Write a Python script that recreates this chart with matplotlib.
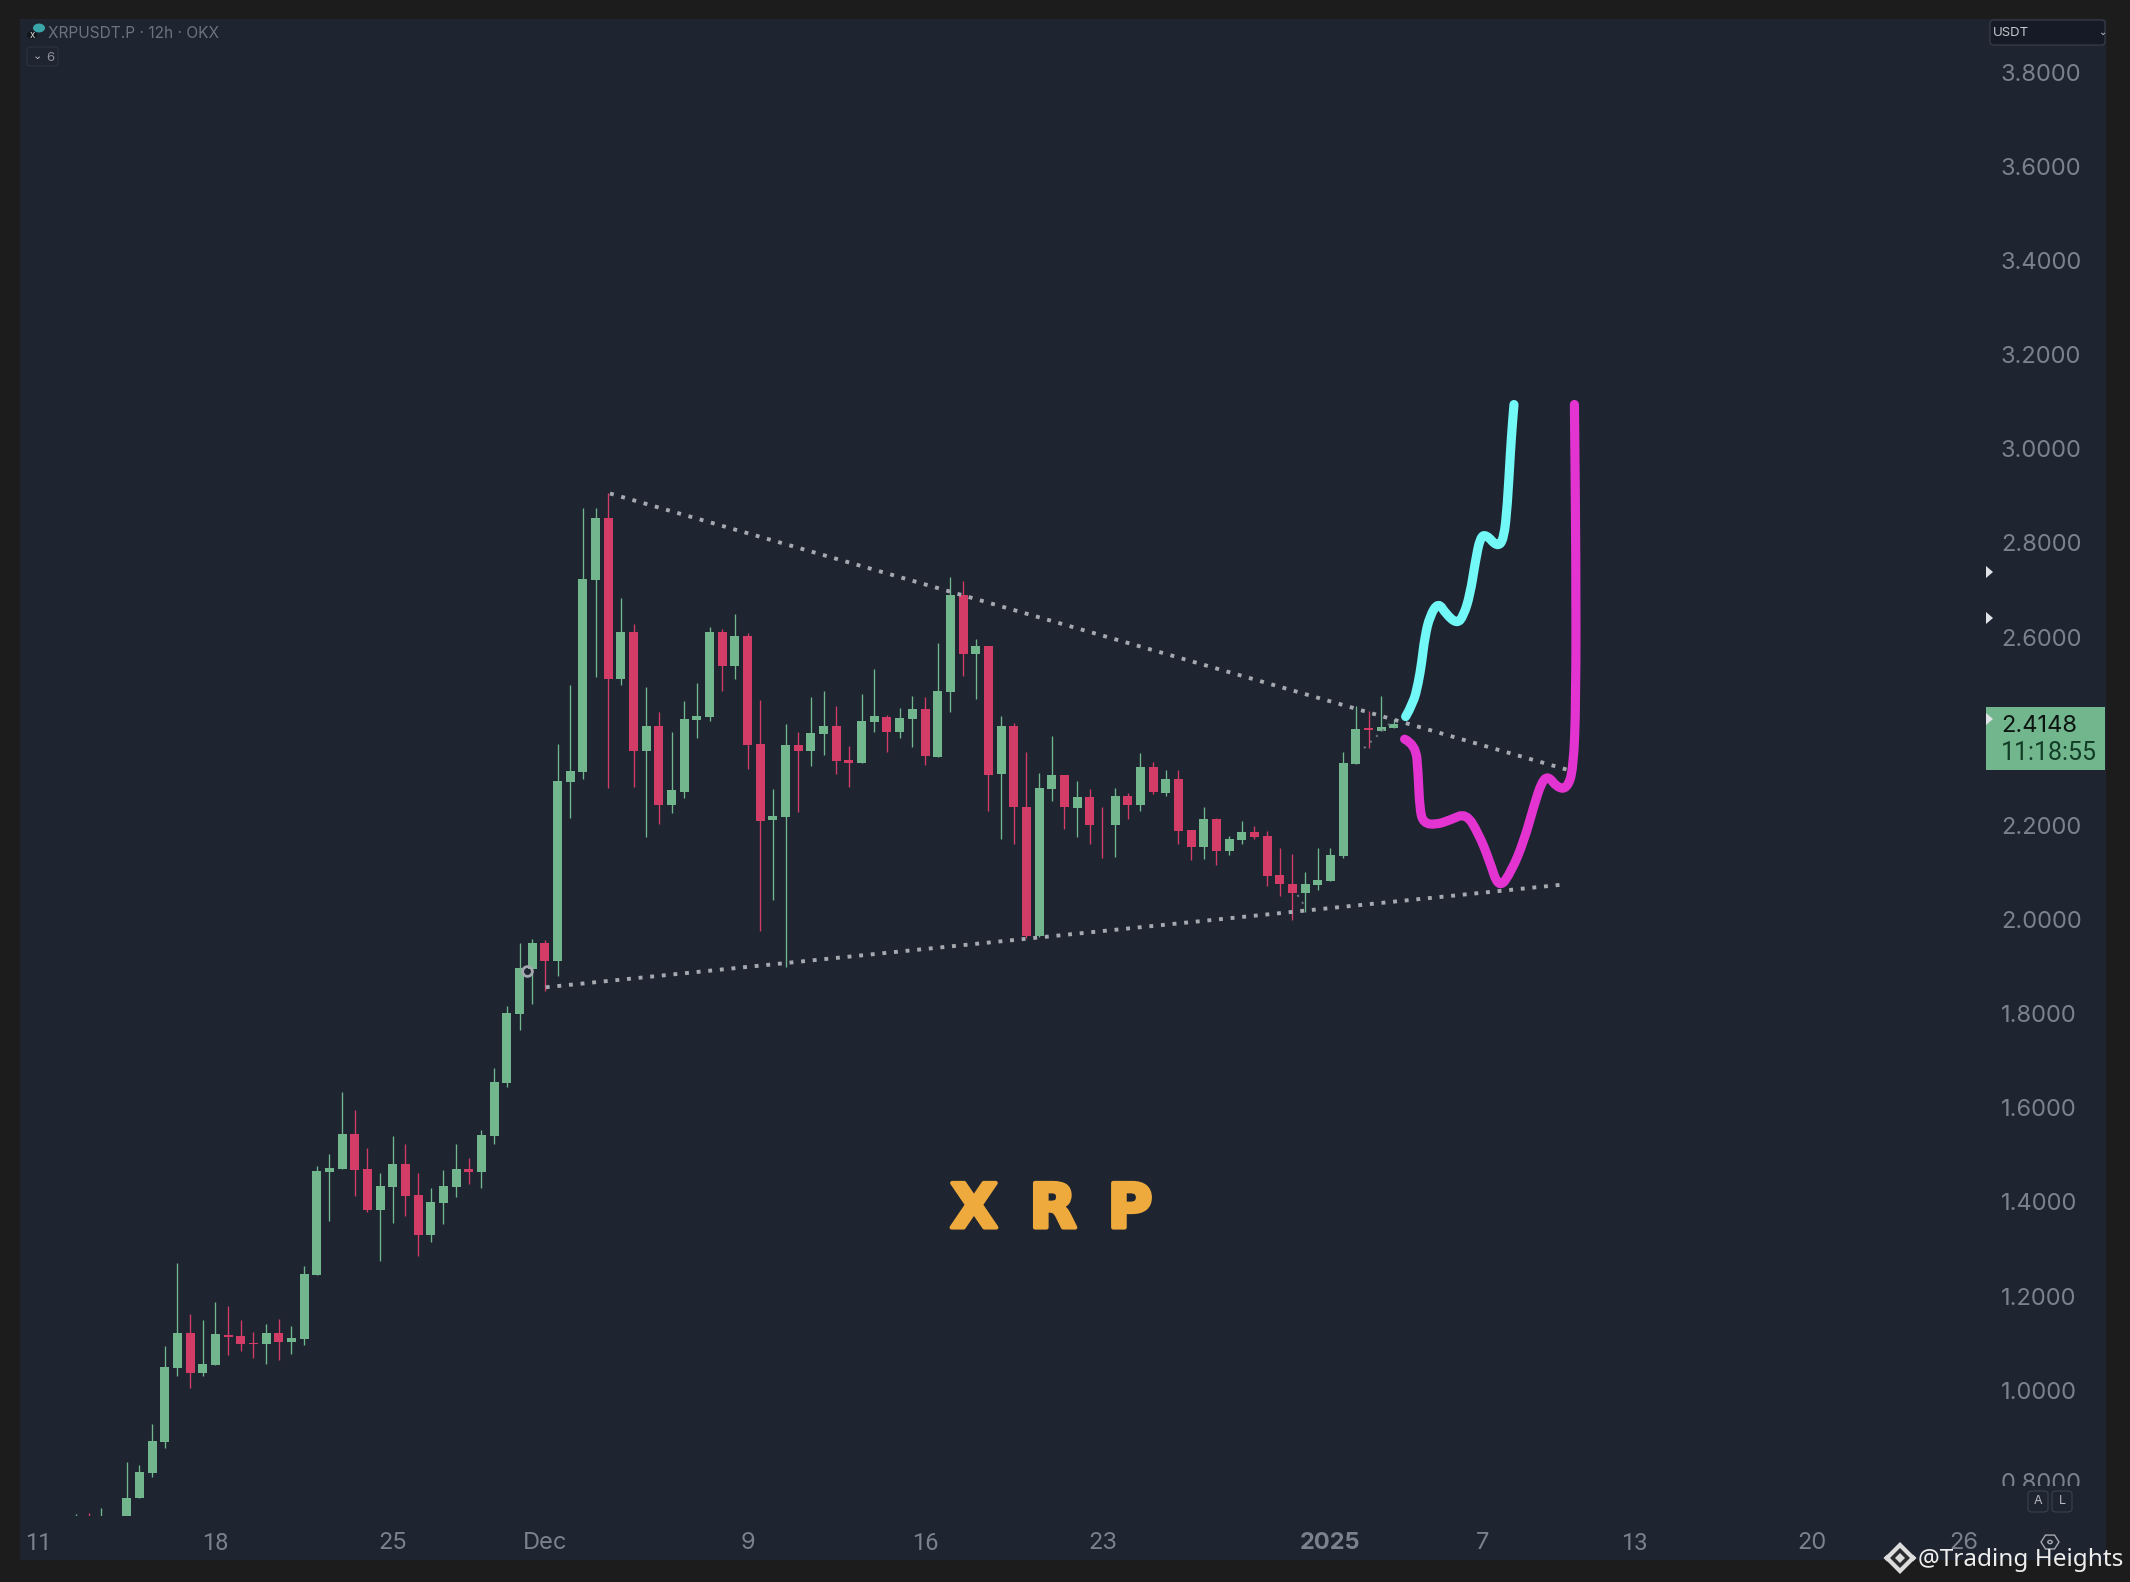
import matplotlib
matplotlib.use("Agg")
import matplotlib.pyplot as plt
import matplotlib.patheffects as pe
import numpy as np
from matplotlib.path import Path
from matplotlib.patches import Polygon, Rectangle, FancyBboxPatch, Circle, PathPatch
from matplotlib.transforms import Bbox

plt.rcParams['font.family'] = ['Inter', 'DejaVu Sans']

W, H = 2130, 1582

# 12h candles, the first one sits 11 bars before the "18" tick
first_bar = -11
opens = [0.70, 0.725, 0.70, 0.70, 0.71, 0.770, 0.825, 0.889, 1.047, 1.121, 1.036, 1.053, 1.118, 1.115, 1.100, 1.098,
         1.121, 1.102, 1.109, 1.244, 1.464, 1.470, 1.544, 1.470, 1.382, 1.431, 1.480, 1.415, 1.329, 1.397, 1.431,
         1.470, 1.464, 1.540, 1.653, 1.799, 1.894, 1.951, 1.911, 2.292, 2.313, 2.721, 2.853, 2.510, 2.611, 2.357,
         2.411, 2.243, 2.270, 2.423, 2.430, 2.611, 2.538, 2.602, 2.372, 2.211, 2.217, 2.370, 2.357, 2.393, 2.411,
         2.338, 2.332, 2.419, 2.430, 2.398, 2.426, 2.447, 2.345, 2.483, 2.689, 2.564, 2.581, 2.309, 2.411, 2.239,
         1.965, 2.277, 2.307, 2.237, 2.260, 2.206, 2.201, 2.262, 2.243, 2.324, 2.269, 2.299, 2.190, 2.154, 2.214,
         2.146, 2.169, 2.186, 2.177, 2.095, 2.076, 2.056, 2.073, 2.082, 2.135, 2.330, 2.406, 2.401, 2.407]
highs = [0.738, 0.740, 0.750, 0.72, 0.847, 0.841, 0.928, 1.094, 1.270, 1.162, 1.149, 1.187, 1.178, 1.149, 1.124, 1.141,
         1.152, 1.136, 1.263, 1.476, 1.502, 1.634, 1.595, 1.515, 1.461, 1.540, 1.523, 1.461, 1.429, 1.468, 1.523,
         1.494, 1.553, 1.685, 1.816, 1.950, 1.959, 1.957, 2.372, 2.498, 2.875, 2.875, 2.906, 2.682, 2.627, 2.494,
         2.440, 2.398, 2.464, 2.502, 2.621, 2.617, 2.649, 2.608, 2.467, 2.277, 2.415, 2.398, 2.472, 2.485, 2.454,
         2.368, 2.480, 2.532, 2.434, 2.449, 2.475, 2.473, 2.587, 2.727, 2.718, 2.595, 2.581, 2.433, 2.417, 2.356,
         2.311, 2.390, 2.307, 2.295, 2.277, 2.238, 2.279, 2.268, 2.353, 2.335, 2.318, 2.318, 2.190, 2.239, 2.215,
         2.177, 2.209, 2.199, 2.188, 2.151, 2.139, 2.100, 2.151, 2.151, 2.356, 2.454, 2.442, 2.475, 2.425]
lows = [0.69, 0.69, 0.69, 0.69, 0.70, 0.770, 0.815, 0.877, 1.031, 1.004, 1.031, 1.053, 1.074, 1.083, 1.068, 1.055,
        1.064, 1.076, 1.096, 1.244, 1.359, 1.470, 1.412, 1.379, 1.275, 1.356, 1.371, 1.285, 1.315, 1.353, 1.411,
        1.439, 1.429, 1.523, 1.644, 1.766, 1.820, 1.849, 1.880, 2.215, 2.299, 2.516, 2.279, 2.499, 2.282, 2.175,
        2.203, 2.226, 2.257, 2.385, 2.422, 2.486, 2.510, 2.319, 1.975, 2.041, 1.900, 2.229, 2.327, 2.349, 2.308,
        2.282, 2.332, 2.398, 2.356, 2.385, 2.367, 2.329, 2.345, 2.440, 2.518, 2.469, 2.231, 2.172, 2.160, 1.960,
        1.963, 2.251, 2.192, 2.175, 2.160, 2.130, 2.132, 2.213, 2.231, 2.266, 2.262, 2.160, 2.127, 2.129, 2.116,
        2.136, 2.160, 2.170, 2.071, 2.049, 1.998, 2.015, 2.063, 2.082, 2.131, 2.330, 2.364, 2.401, 2.407]
closes = [0.72, 0.70, 0.72, 0.71, 0.772, 0.827, 0.892, 1.049, 1.121, 1.037, 1.055, 1.119, 1.113, 1.098, 1.098, 1.121,
          1.102, 1.110, 1.247, 1.465, 1.472, 1.544, 1.468, 1.382, 1.434, 1.480, 1.412, 1.329, 1.400, 1.434, 1.470,
          1.464, 1.542, 1.655, 1.801, 1.896, 1.951, 1.911, 2.294, 2.315, 2.723, 2.853, 2.510, 2.611, 2.357, 2.411,
          2.243, 2.275, 2.426, 2.432, 2.611, 2.538, 2.602, 2.370, 2.209, 2.219, 2.370, 2.357, 2.396, 2.411, 2.337,
          2.332, 2.421, 2.432, 2.398, 2.428, 2.447, 2.347, 2.485, 2.689, 2.564, 2.581, 2.307, 2.411, 2.238, 1.965,
          2.279, 2.307, 2.238, 2.260, 2.201, 2.204, 2.262, 2.243, 2.324, 2.271, 2.299, 2.188, 2.154, 2.214, 2.146,
          2.171, 2.186, 2.175, 2.092, 2.076, 2.056, 2.076, 2.084, 2.137, 2.333, 2.405, 2.403, 2.409, 2.4148]

price_ticks = [1.0, 1.2, 1.4, 1.6, 1.8, 2.0, 2.2, 2.6, 2.8, 3.0, 3.2, 3.4, 3.6, 3.8]
time_ticks = [-14, 0, 14, 26, 42, 56, 70, 88, 100, 112, 126, 138]
time_labels = ["11", "18", "25", "Dec", "9", "16", "23", "2025", "7", "13", "20", "26"]

# hand drawn trend lines and scenario paths (bar number, price)
upper_line_x = [31.14, 106.7]
upper_line_y = [2.905, 2.318]
lower_line_x = [26.07, 106.3]
lower_line_y = [1.856, 2.074]
faint_a_x = [85.4, 86.0]
faint_a_y = [2.052, 2.027]
faint_b_x = [90.65, 93.0]
faint_b_y = [2.364, 2.424]

cyan_x = [93.93, 94.53, 94.92, 95.2, 95.44, 95.84, 96.51, 97.11, 97.98, 98.5, 99.02, 99.42, 99.81, 100.29, 101.17,
          101.68, 101.96, 102.2, 102.36, 102.48]
cyan_y = [2.431, 2.459, 2.501, 2.546, 2.600, 2.645, 2.674, 2.649, 2.628, 2.645, 2.691, 2.759, 2.812, 2.818, 2.791,
          2.808, 2.880, 2.994, 3.055, 3.094]
magenta_x = [93.85, 94.72, 94.92, 95.04, 95.32, 96.31, 97.51, 98.7, 99.69, 100.49, 101.28, 102.28, 103.27, 104.07,
             104.66, 105.18, 105.86, 106.65, 107.17, 107.37, 107.37, 107.25]
magenta_y = [2.383, 2.372, 2.311, 2.235, 2.205, 2.201, 2.212, 2.226, 2.182, 2.129, 2.064, 2.102, 2.167, 2.243, 2.292,
             2.305, 2.281, 2.277, 2.319, 2.463, 2.766, 3.094]

GREEN = "#72b68d"
RED = "#d33c66"
PANE = "#1e2531"
OUTER = "#1c1c1c"
TICK = "#7c818e"
DOTS = "#a6aab0"


def fx(x):
    return x / W


def fy(y):
    return 1 - y / H


def brush_path(xs, ys):
    # quadratic segments between midpoints, so the freehand strokes stay round
    pts = list(zip(xs, ys))
    verts = [pts[0]]
    codes = [Path.MOVETO]
    for k in range(1, len(pts) - 1):
        mid = ((pts[k][0] + pts[k + 1][0]) / 2, (pts[k][1] + pts[k + 1][1]) / 2)
        verts += [pts[k], mid]
        codes += [Path.CURVE3, Path.CURVE3]
    verts.append(pts[-1])
    codes.append(Path.LINETO)
    return Path(verts, codes)


def diamond(cx, cy, r, color="#dddddd"):
    fig.add_artist(Polygon([(fx(cx - r), fy(cy)), (fx(cx), fy(cy - r)), (fx(cx + r), fy(cy)), (fx(cx), fy(cy + r))],
                           transform=fig.transFigure, facecolor=color, edgecolor="none", zorder=9))


fig = plt.figure(figsize=(W / 100, H / 100), dpi=100, facecolor=OUTER)

# dark pane behind everything
fig.add_artist(Rectangle((fx(20), fy(1560)), (2106 - 20) / W, (1560 - 19) / H, transform=fig.transFigure,
                         facecolor=PANE, edgecolor="none", zorder=-5))

ax = fig.add_axes([fx(20), fy(1516), (2106 - 20) / W, (1516 - 19) / H])
ax.patch.set_alpha(0)
ax.set_xlim(-15.42, 149.2)
ax.set_ylim(0.7327, 3.913)
for s in ax.spines.values():
    s.set_visible(False)

bars = np.arange(first_bar, first_bar + len(opens))
o, h, l, c = map(np.array, (opens, highs, lows, closes))
cols = [GREEN if up else RED for up in c >= o]
ax.vlines(bars, l, h, colors=cols, linewidth=0.95, zorder=2)
ax.bar(bars, np.abs(c - o), bottom=np.minimum(o, c), width=0.71, color=cols, linewidth=0, zorder=3)

for lx, ly in [(upper_line_x, upper_line_y), (lower_line_x, lower_line_y)]:
    ax.plot(lx, ly, color=DOTS, lw=2.8, linestyle=(0, (1, 2.0)), dash_capstyle="butt", zorder=4)
for lx, ly in [(faint_a_x, faint_a_y), (faint_b_x, faint_b_y)]:
    ax.plot(lx, ly, color="#6f747c", lw=1.5, linestyle=(0, (1, 3)), dash_capstyle="butt", zorder=4)
ax.plot([24.6], [1.891], marker="o", ms=7, mfc="none", mec="#a5a8ae", mew=2, zorder=4)

for xs, ys, col in [(cyan_x, cyan_y, "#72f8f6"), (magenta_x, magenta_y, "#e334d2")]:
    ax.add_patch(PathPatch(brush_path(xs, ys), fill=False, edgecolor=col, lw=6.6, capstyle="round",
                           joinstyle="round", zorder=5))

# price scale labels sit inside the pane
ax.yaxis.tick_right()
ax.set_yticks(price_ticks, [f"{p:.4f}" for p in price_ticks])
ax.tick_params(axis="y", length=0, pad=-75.6, labelsize=17, labelcolor=TICK)
for lab in ax.get_yticklabels():
    lab.set_ha("left")

ax.set_xticks(time_ticks, time_labels)
ax.tick_params(axis="x", length=0, pad=11.5, labelsize=17, labelcolor=TICK)
for lab in ax.get_xticklabels():
    if "1" in lab.get_text():
        lab.set_family("Roboto")
ax.get_xticklabels()[7].set_fontweight("bold")

# 0.8000 gets cut by the A / L buttons strip
low_label = fig.text(fx(2001), fy(919.5 + 1.2 * 470.7), "0.8000", color=TICK, fontsize=17, va="center", ha="left")
low_label.set_clip_box(Bbox([[0, H - 1486], [W, H]]))
low_label.set_clip_on(True)

# last price tag
fig.add_artist(Rectangle((fx(1986), fy(770)), 119 / W, 63 / H, transform=fig.transFigure, facecolor=GREEN,
                         edgecolor="none", zorder=6))
fig.text(fx(2001), fy(726), "2.4148", color="#0d1512", fontsize=17, va="center", ha="left", zorder=7)
fig.text(fx(2001), fy(753), "11:18:55", color="#123d27", fontsize=18, family="Roboto", va="center", ha="left", zorder=7)
for ty in [572, 618, 719]:
    fig.add_artist(Polygon([(fx(1986), fy(ty - 6)), (fx(1993), fy(ty)), (fx(1986), fy(ty + 6))],
                           transform=fig.transFigure, facecolor="#dfe2e6", edgecolor="none", zorder=8))

# header
fig.text(fx(48), fy(33), "XRPUSDT.P · 12h · OKX", color="#6d7280", fontsize=11.1, va="center", ha="left")
fig.add_artist(Circle((fx(39), fy(28)), 6 / W, transform=fig.transFigure, facecolor="#3aa5a8", edgecolor="none"))
fig.add_artist(Circle((fx(32), fy(35)), 5 / W, transform=fig.transFigure, facecolor="#111418", edgecolor="none"))
fig.text(fx(32), fy(35), "x", color="#d8dade", fontsize=7, va="center", ha="center")
fig.add_artist(FancyBboxPatch((fx(27), fy(66)), 31 / W, 19 / H, boxstyle="round,pad=0,rounding_size=0.002",
                              transform=fig.transFigure, facecolor="none", edgecolor="#2d3440", lw=0.8))
fig.text(fx(37), fy(56), "⌄", color="#b4b7be", fontsize=8, va="center", ha="center", family="DejaVu Sans")
fig.text(fx(50), fy(58), "6", color="#8d919b", fontsize=9.5, va="center", ha="center")

# currency selector
fig.add_artist(FancyBboxPatch((fx(1990), fy(45)), 115 / W, 25 / H, boxstyle="round,pad=0,rounding_size=0.002",
                              transform=fig.transFigure, facecolor="#161a26", edgecolor="#3a3f4b", lw=0.8))
fig.text(fx(1993), fy(33.5), "USDT", color="#c6c8cd", fontsize=9.5, va="center", ha="left")
fig.text(fx(2103), fy(32), "⌄", color="#c6c8cd", fontsize=7, va="center", ha="center", family="DejaVu Sans")

# A / L buttons and the settings hexagon
for bx, letter in [(2028, "A"), (2052, "L")]:
    fig.add_artist(FancyBboxPatch((fx(bx), fy(1512)), 20 / W, 21 / H, boxstyle="round,pad=0,rounding_size=0.002",
                                  transform=fig.transFigure, facecolor="none", edgecolor="#3b414d", lw=0.8))
    fig.text(fx(bx + 10), fy(1501.5), letter, color="#b6b9c0", fontsize=9, va="center", ha="center")
hex_a = np.deg2rad(np.arange(0, 360, 60))
fig.add_artist(Polygon(np.c_[fx(2050 + 9 * np.cos(hex_a)), fy(1542 + 8 * np.sin(hex_a))], transform=fig.transFigure,
                       facecolor="none", edgecolor="#a6a9b0", lw=1))
fig.add_artist(Circle((fx(2050), fy(1542)), 2.2 / W, transform=fig.transFigure, facecolor="none",
                      edgecolor="#a6a9b0", lw=1))

# XRP logo, letter by letter
for lx, letter in [(974, "X"), (1053, "R"), (1130, "P")]:
    txt = fig.text(fx(lx), fy(1211), letter, color="#eeaa3c", fontsize=44, fontweight="bold", family="DejaVu Sans",
                   va="center", ha="center")
    txt.set_path_effects([pe.withStroke(linewidth=3, foreground="#eeaa3c")])

# watermark
fig.text(fx(1918), fy(1560), "@Trading Heights", color="#eeeeee", fontsize=17.5, family="Noto Sans", va="center",
         ha="left", zorder=9)
diamond(1900, 1558, 16)
diamond(1900, 1558, 10, color="#2a2c30")
diamond(1900, 1558, 5)
diamond(1887, 1558, 3.5)
diamond(1913, 1558, 3.5)

fig.savefig("out.png", dpi=100, facecolor=OUTER)
